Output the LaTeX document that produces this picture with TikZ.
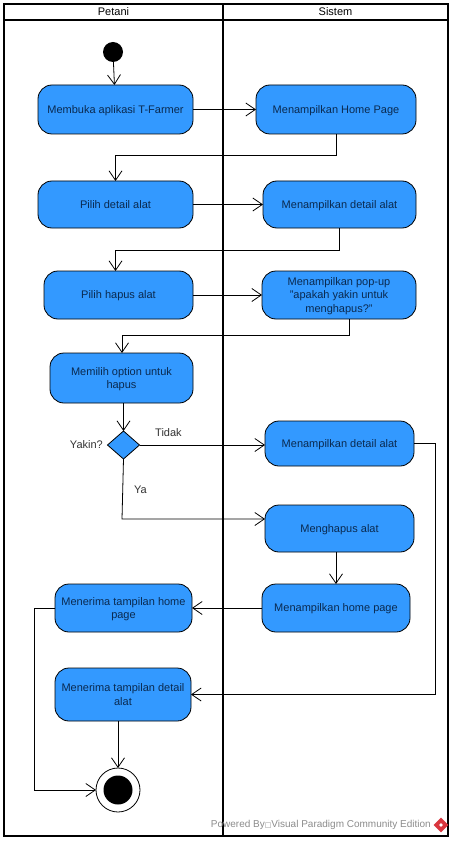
\documentclass[tikz,border=0pt]{standalone}
\usepackage{fontspec}
\setmainfont{Liberation Sans}
\newfontfamily\symfont{DejaVu Sans}
\usetikzlibrary{positioning,arrows.meta,shapes.geometric}
\definecolor{actblue}{HTML}{3399FF}
\definecolor{acttext}{HTML}{0A2A50}
\definecolor{logored}{HTML}{D9363E}

\begin{document}
\begin{tikzpicture}[
    x=1pt, y=-1pt,
    font=\fontsize{11}{13.5}\selectfont,
    >={Straight Barb[length=9.5pt,width=13pt]},
    actbox/.style={
        draw=black,
        fill=actblue,
        text=acttext,
        rounded corners=14pt,
        align=center,
        inner sep=0pt,
        outer sep=0pt,
        text depth=0pt,
        line width=0.8pt
    },
    lanehead/.style={
        draw=black,
        fill=white,
        anchor=north west,
        inner sep=0pt,
        outer sep=0pt,
        line width=2.4pt
    },
    lanebody/.style={lanehead},
    flow/.style={->, line width=0.8pt, draw=black},
    plainlabel/.style={text=black!80, inner sep=0pt, text depth=0pt}
]

    \useasboundingbox (0,0) rectangle (454,842);

    % lanes
    \node[lanebody, minimum width=219pt, minimum height=832pt] (petanibody) at (4,4) {};
    \node[lanebody, minimum width=225pt, minimum height=832pt] (sistembody) at (223,4) {};
    \node[lanehead, minimum width=219pt, minimum height=16pt] (petani) at (4,4) {Petani};
    \node[lanehead, minimum width=225pt, minimum height=16pt] (sistem) at (223,4) {Sistem};
    \draw[line width=2.9pt] (petanibody.north east) -- (petanibody.south east);

    % left column
    \node[circle, fill=black, minimum size=20pt, inner sep=0pt, outer sep=0pt] (start) at (113,52) {};
    \node[actbox, minimum width=155pt, minimum height=49pt] (buka) at (115.5,109.5) {Membuka aplikasi T-Farmer};
    \node[actbox, minimum width=155pt, minimum height=47pt, below=47pt of buka] (pilih) {Pilih detail alat};
    \node[actbox, minimum width=149pt, minimum height=48pt, below=43pt of pilih, xshift=3pt] (hapus) {Pilih hapus alat};
    \node[actbox, minimum width=143pt, minimum height=50pt, below=34pt of hapus, xshift=3pt] (option) {Memilih option untuk\\hapus};
    \node[diamond, draw=black, fill=actblue, line width=0.8pt, inner sep=0pt, outer sep=0pt,
        minimum width=32pt, minimum height=28pt, below=28pt of option, xshift=2pt] (yakin) {};
    \node[plainlabel, left=4.5pt of yakin] (yakinlabel) {Yakin?};
    \node[plainlabel, anchor=west] (tidaklabel) at (155,433) {Tidak};
    \node[plainlabel, anchor=west] (yalabel) at (134,490) {Ya};

    % right column
    \node[actbox, minimum width=160pt, minimum height=49pt, right=63pt of buka] (home) {Menampilkan Home Page};
    \node[actbox, minimum width=153pt, minimum height=47pt, right=70pt of pilih] (detail) {Menampilkan detail alat};
    \node[actbox, minimum width=154pt, minimum height=48pt, right=69pt of hapus] (popup) {Menampilkan pop-up\\"apakah yakin untuk\\menghapus?"};
    \node[actbox, minimum width=149pt, minimum height=45pt, anchor=west] (detailb) at (265,443.5) {Menampilkan detail alat};
    \node[actbox, minimum width=149pt, minimum height=47pt, below=39pt of detailb] (menghapus) {Menghapus alat};
    \node[actbox, minimum width=148pt, minimum height=48pt, below=32pt of menghapus, xshift=-3.5pt] (homeb) {Menampilkan home page};

    % bottom of left column
    \node[actbox, minimum width=137pt, minimum height=48pt, left=70pt of homeb] (terimahome) {Menerima tampilan home\\page};
    \node[actbox, minimum width=136pt, minimum height=53pt, below=36pt of terimahome, xshift=-0.5pt] (terimadetail) {Menerima tampilan detail\\alat};
    \node[circle, draw=black, fill=white, line width=0.8pt, minimum size=44pt, inner sep=0pt, outer sep=0pt] (finish) at (118,790) {};
    \node[circle, fill=black, minimum size=29pt, inner sep=0pt] (finishdot) at (finish) {};

    % bends
    \coordinate (bendhome) at (336,155);
    \coordinate (benddetail) at (339.5,250);
    \coordinate (bendpopup) at (349,335);
    \coordinate (bendya) at (122,519);
    \coordinate (bendright) at (435,443.5);
    \coordinate (bendleft) at (34,790);
    \coordinate (bendhapus) at (336,552);

    \draw[flow] (start) -- (buka);
    \draw[flow] (buka) -- (home);
    \draw[flow] (home.south) -- (bendhome) -| (pilih.north);
    \draw[flow] (pilih) -- (detail);
    \draw[flow] (detail.south) -- (benddetail) -| ([xshift=-3pt]hapus.north);
    \draw[flow] (hapus) -- (popup);
    \draw[flow] ([xshift=10pt]popup.south) |- (bendpopup) -| ([xshift=0.5pt]option.north);
    \draw[flow] ([xshift=2pt]option.south) -- (yakin.north);
    \draw[flow] (yakin.east) -- (yakin.east -| detailb.west);
    \draw[flow] (yakin.south) -- (bendya) -- (bendya -| menghapus.west);
    \draw[flow] (bendhapus) -- (bendhapus |- homeb.north);
    \draw[flow] (homeb) -- (terimahome);
    \draw[flow] (detailb.east) -- (bendright) |- (terimadetail.east);
    \draw[flow] (terimahome.west) -| (bendleft) -- (finish.west);
    \draw[flow] (terimadetail.south -| finish) -- (finish.north);

    % watermark
    \node[text=black!45, font=\fontsize{10}{12}\selectfont, anchor=east, inner sep=0pt] (powered) at (431,825)
        {Powered By{\symfont\fontsize{7}{8}\selectfont □}Visual Paradigm Community Edition};
    \node[diamond, fill=logored, minimum size=15pt, inner sep=0pt] (logo) at (441,825) {};
    \node[diamond, fill=white, minimum size=4pt, inner sep=0pt] (logohole) at (441,825) {};

\end{tikzpicture}
\end{document}
